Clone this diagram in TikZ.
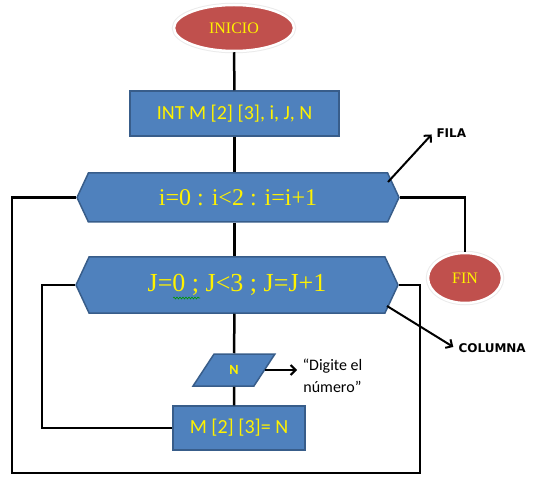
\documentclass[tikz,border=0pt]{standalone}
\usepackage{fontspec}
\setmainfont{Liberation Serif}
\newfontfamily\calibrifont{Carlito}
\newfontfamily\notefont{DejaVu Sans}
\usetikzlibrary{shapes.geometric,shapes.symbols,arrows.meta,decorations.pathmorphing}

\definecolor{boxblue}{HTML}{4F81BD}
\definecolor{boxline}{HTML}{385D8A}
\definecolor{startred}{HTML}{C0504D}

\begin{document}
\begin{tikzpicture}[x=1pt, y=-1pt,
    terminal/.style={ellipse, fill=startred, draw=white, line width=2.5pt,
        preaction={draw=black!8, line width=4.5pt}, text=yellow,
        font=\fontsize{16}{18}\selectfont},
    process/.style={rectangle, draw=boxline, fill=boxblue, line width=1.5pt,
        text=yellow, font=\calibrifont\fontsize{20}{22}\selectfont},
    loopbox/.style={signal, signal to=east and west, signal pointer angle=130,
        draw=boxline, fill=boxblue, line width=1.5pt, text=yellow, inner sep=1pt},
    inputbox/.style={trapezium, trapezium left angle=62, trapezium right angle=118,
        trapezium stretches=true, draw=boxline, fill=boxblue, line width=1.5pt,
        text=yellow, font=\calibrifont\bfseries\fontsize{14}{16}\selectfont},
    line/.style={draw, line width=2.5pt},
    pointer/.style={draw, line width=2pt, shorten >=2pt, -{Straight Barb[length=5pt,width=10pt]}},
    remark/.style={font=\notefont\bfseries\fontsize{12}{14}\selectfont}
]
    \useasboundingbox (0,0) rectangle (533,481);
    % Place nodes
    \node [terminal, minimum width=120pt, minimum height=46pt] (start) at (234,28) {INICIO};
    \node [process, minimum width=209pt, minimum height=45pt] (decl) at (234.5,113.5) {INT M [2] [3], i, J, N};
    \node [loopbox, minimum width=322pt, minimum height=49pt, font=\fontsize{24}{26}\selectfont] (outer) at (238,197.5) {i=0 : i<2 : i=i+1};
    \node [loopbox, minimum width=322pt, minimum height=56pt, font=\fontsize{26}{28}\selectfont] (inner) at (237,285) {J=0 ; J<3 ; J=J+1};
    \node [inputbox, minimum width=82pt, minimum height=32pt] (read) at (234,370) {N};
    \node [process, minimum width=132pt, minimum height=44pt] (assign) at (239,428) {M [2] [3]= N};
    \node [terminal, minimum width=74pt, minimum height=50pt] (end) at (465,278) {FIN};
    \node [remark, anchor=west] (fila) at (433,133) {FILA};
    \node [remark, anchor=west] (columna) at (455,348) {COLUMNA};
    \node [font=\calibrifont\fontsize{16}{22}\selectfont, align=center, anchor=west] (prompt) at (299,376) {“Digite el\\número”};
    % spell check mark
    \draw [green!60!black, line width=0.6pt, decorate, decoration={snake, amplitude=1pt, segment length=3pt}] (173,298) -- (200,298);
    % corners of the loops
    \coordinate (c1) at (420,473);
    \coordinate (c2) at (12,473);
    \coordinate (c3) at (42,428);
    \coordinate (f1) at (388,182);
    \coordinate (k1) at (387,306);
    % Connectors
    \path [line] (start.south) -- (decl.north);
    \path [line] (decl.south) -- (decl.south |- outer.north);
    \path [line] (outer.south -| decl) -- (inner.north -| decl);
    \path [line] (inner.south -| decl) -- (read.north);
    \path [line] (read.south) -- (assign.north -| read);
    \path [line] (outer.east) -| (end.north);
    \path [line] (inner.east) -| (c1) -- (c2) |- (outer.west);
    \path [line] (inner.west) -| (c3) -- (assign.west);
    \path [pointer] (read.east) -- (read.east -| prompt.west);
    \path [pointer] (f1) -- (fila.west);
    \path [pointer] (k1) -- (columna.west);
\end{tikzpicture}
\end{document}
